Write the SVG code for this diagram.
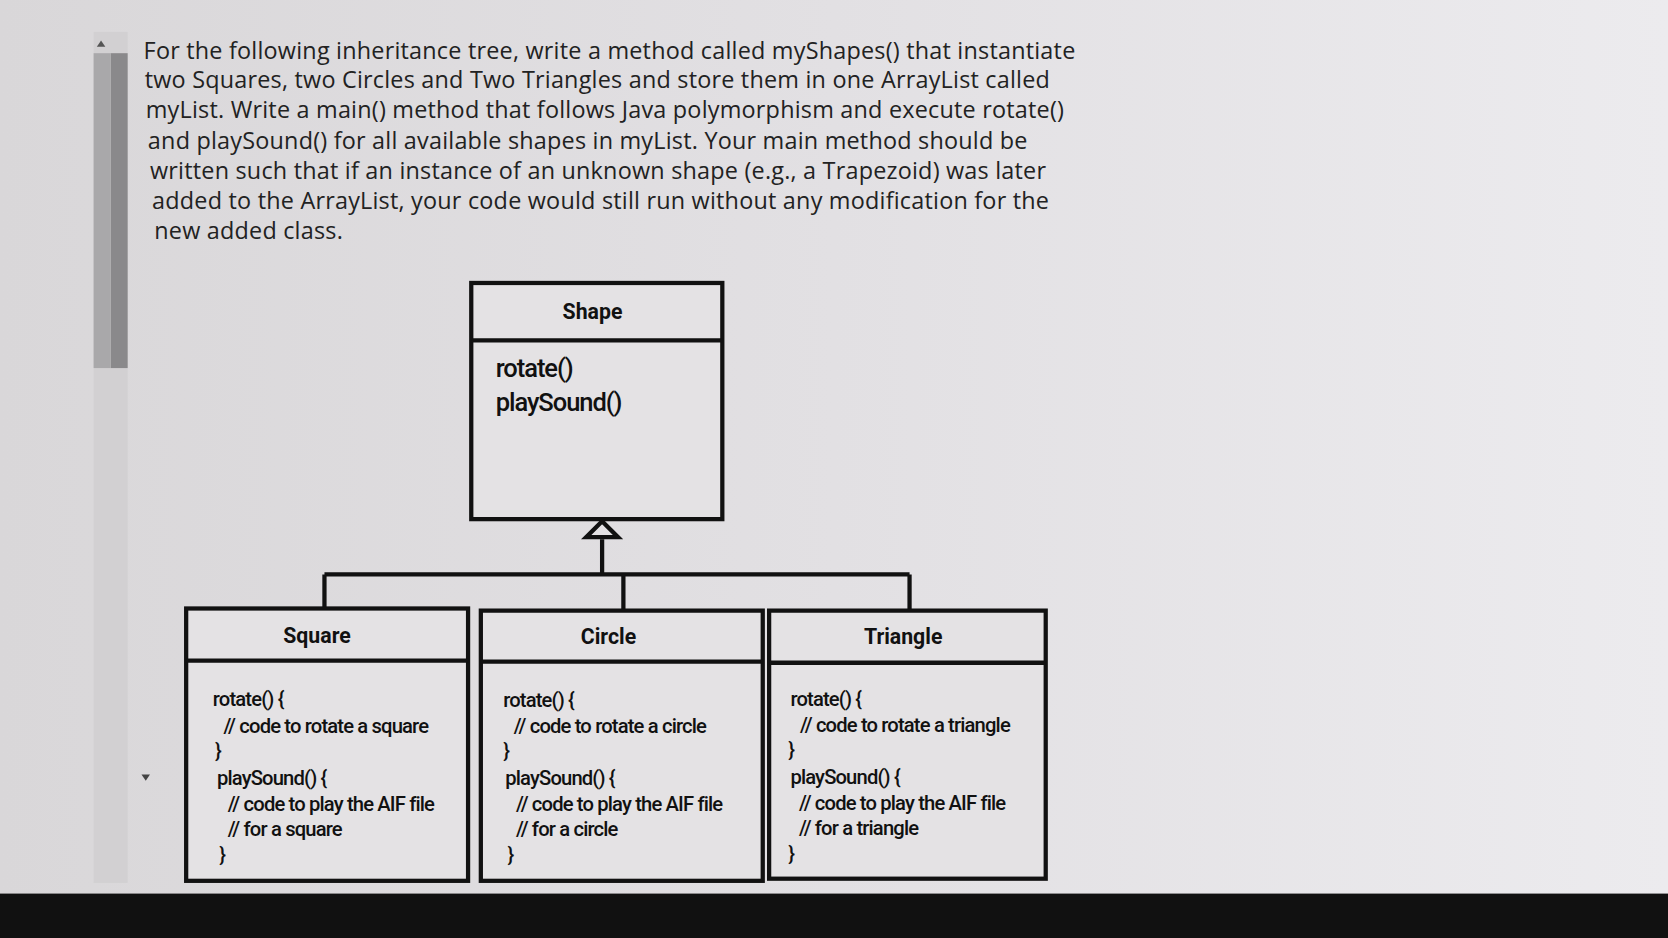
<svg xmlns="http://www.w3.org/2000/svg" width="1668" height="938" viewBox="0 0 1668 938">
<defs>
<linearGradient id="bg" x1="0" y1="0" x2="1" y2="0"><stop offset="0" stop-color="#d9d7d9"/><stop offset="0.5" stop-color="#e2e0e3"/><stop offset="1" stop-color="#ecebee"/></linearGradient>
<style>
.q{font-family:"Open Sans","Liberation Sans",sans-serif;font-size:22px;fill:#222;letter-spacing:0.2px}
.box{fill:#e4e2e4;stroke:#111;stroke-width:4}
.ln{stroke:#111;stroke-width:4;fill:none}
.h{font-family:"Roboto","Liberation Sans",sans-serif;font-weight:bold;font-size:20px;fill:#111;text-anchor:middle}
.m{font-family:"Roboto","Liberation Sans",sans-serif;font-size:24px;font-weight:500;fill:#111;letter-spacing:-1px}
.c{font-family:"Roboto","Liberation Sans",sans-serif;font-size:19px;font-weight:500;fill:#111;letter-spacing:-0.8px}
</style>
</defs>
<g transform="scale(1.0638)">
<rect width="1568" height="882" fill="url(#bg)"/>
<rect x="0" y="840" width="1568" height="42" fill="#111"/>
<rect x="88" y="30" width="32" height="800" fill="#d2d0d2"/>
<rect x="104" y="50" width="16" height="296" fill="#8a898b"/>
<rect x="88" y="50" width="16" height="296" fill="#a9a8aa"/>
<path d="M91 44 L95 38 L99 44 Z" fill="#555"/>
<path d="M133 728 L137 734 L141 728 Z" fill="#444"/>
<g id="question">
<text class="q" x="135" y="55">For the following inheritance tree,  write a method called myShapes() that instantiate</text>
<text class="q" x="136" y="83">two Squares, two Circles and Two Triangles and store them in one ArrayList called</text>
<text class="q" x="137" y="111">myList. Write a main() method that follows Java polymorphism and execute rotate()</text>
<text class="q" x="139" y="140">and playSound() for all available shapes in myList. Your main method should be</text>
<text class="q" x="141" y="168">written such that if an instance of an unknown shape (e.g., a Trapezoid) was later</text>
<text class="q" x="143" y="196">added to the ArrayList, your code would still run without any modification for the</text>
<text class="q" x="145" y="225">new added class.</text>
</g>
<g id="connectors">
<path class="ln" d="M566 507 V540 M305 540 H855 M305 540 V572 M586 540 V574 M855 540 V574"/>
<path d="M566 490 L551 505 L581 505 Z" fill="#e4e2e4" stroke="#111" stroke-width="4"/>
</g>
<g id="shape">
<rect class="box" x="443" y="266" width="236" height="222"/>
<line class="ln" x1="443" y1="320" x2="679" y2="320"/>
<text class="h" x="557" y="300">Shape</text>
<text class="m" x="466" y="354">rotate()</text>
<text class="m" x="466" y="386">playSound()</text>
</g>
<g id="square">
<rect class="box" x="175" y="572" width="265" height="256"/>
<line class="ln" x1="175" y1="621" x2="440" y2="621"/>
<text class="h" x="298" y="604">Square</text>
<text class="c" x="200" y="664">rotate() {</text>
<text class="c" x="210" y="689">// code to rotate a square</text>
<text class="c" x="202" y="713">}</text>
<text class="c" x="204" y="738">playSound() {</text>
<text class="c" x="214" y="762">// code to play the AIF file</text>
<text class="c" x="214" y="786">// for a square</text>
<text class="c" x="206" y="810">}</text>
</g>
<g id="circle">
<rect class="box" x="452" y="574" width="265" height="254"/>
<line class="ln" x1="452" y1="622" x2="717" y2="622"/>
<text class="h" x="572" y="605">Circle</text>
<text class="c" x="473" y="665">rotate() {</text>
<text class="c" x="483" y="689">// code to rotate a circle</text>
<text class="c" x="473" y="713">}</text>
<text class="c" x="475" y="738">playSound() {</text>
<text class="c" x="485" y="762">// code to play the AIF file</text>
<text class="c" x="485" y="786">// for a circle</text>
<text class="c" x="477" y="810">}</text>
</g>
<g id="triangle">
<rect class="box" x="723" y="574" width="260" height="252"/>
<line class="ln" x1="723" y1="623" x2="983" y2="623"/>
<text class="h" x="849" y="605">Triangle</text>
<text class="c" x="743" y="664">rotate() {</text>
<text class="c" x="752" y="688">// code to rotate a triangle</text>
<text class="c" x="741" y="712">}</text>
<text class="c" x="743" y="737">playSound() {</text>
<text class="c" x="751" y="761">// code to play the AIF file</text>
<text class="c" x="751" y="785">// for a triangle</text>
<text class="c" x="741" y="809">}</text>
</g>
</g>
</svg>
